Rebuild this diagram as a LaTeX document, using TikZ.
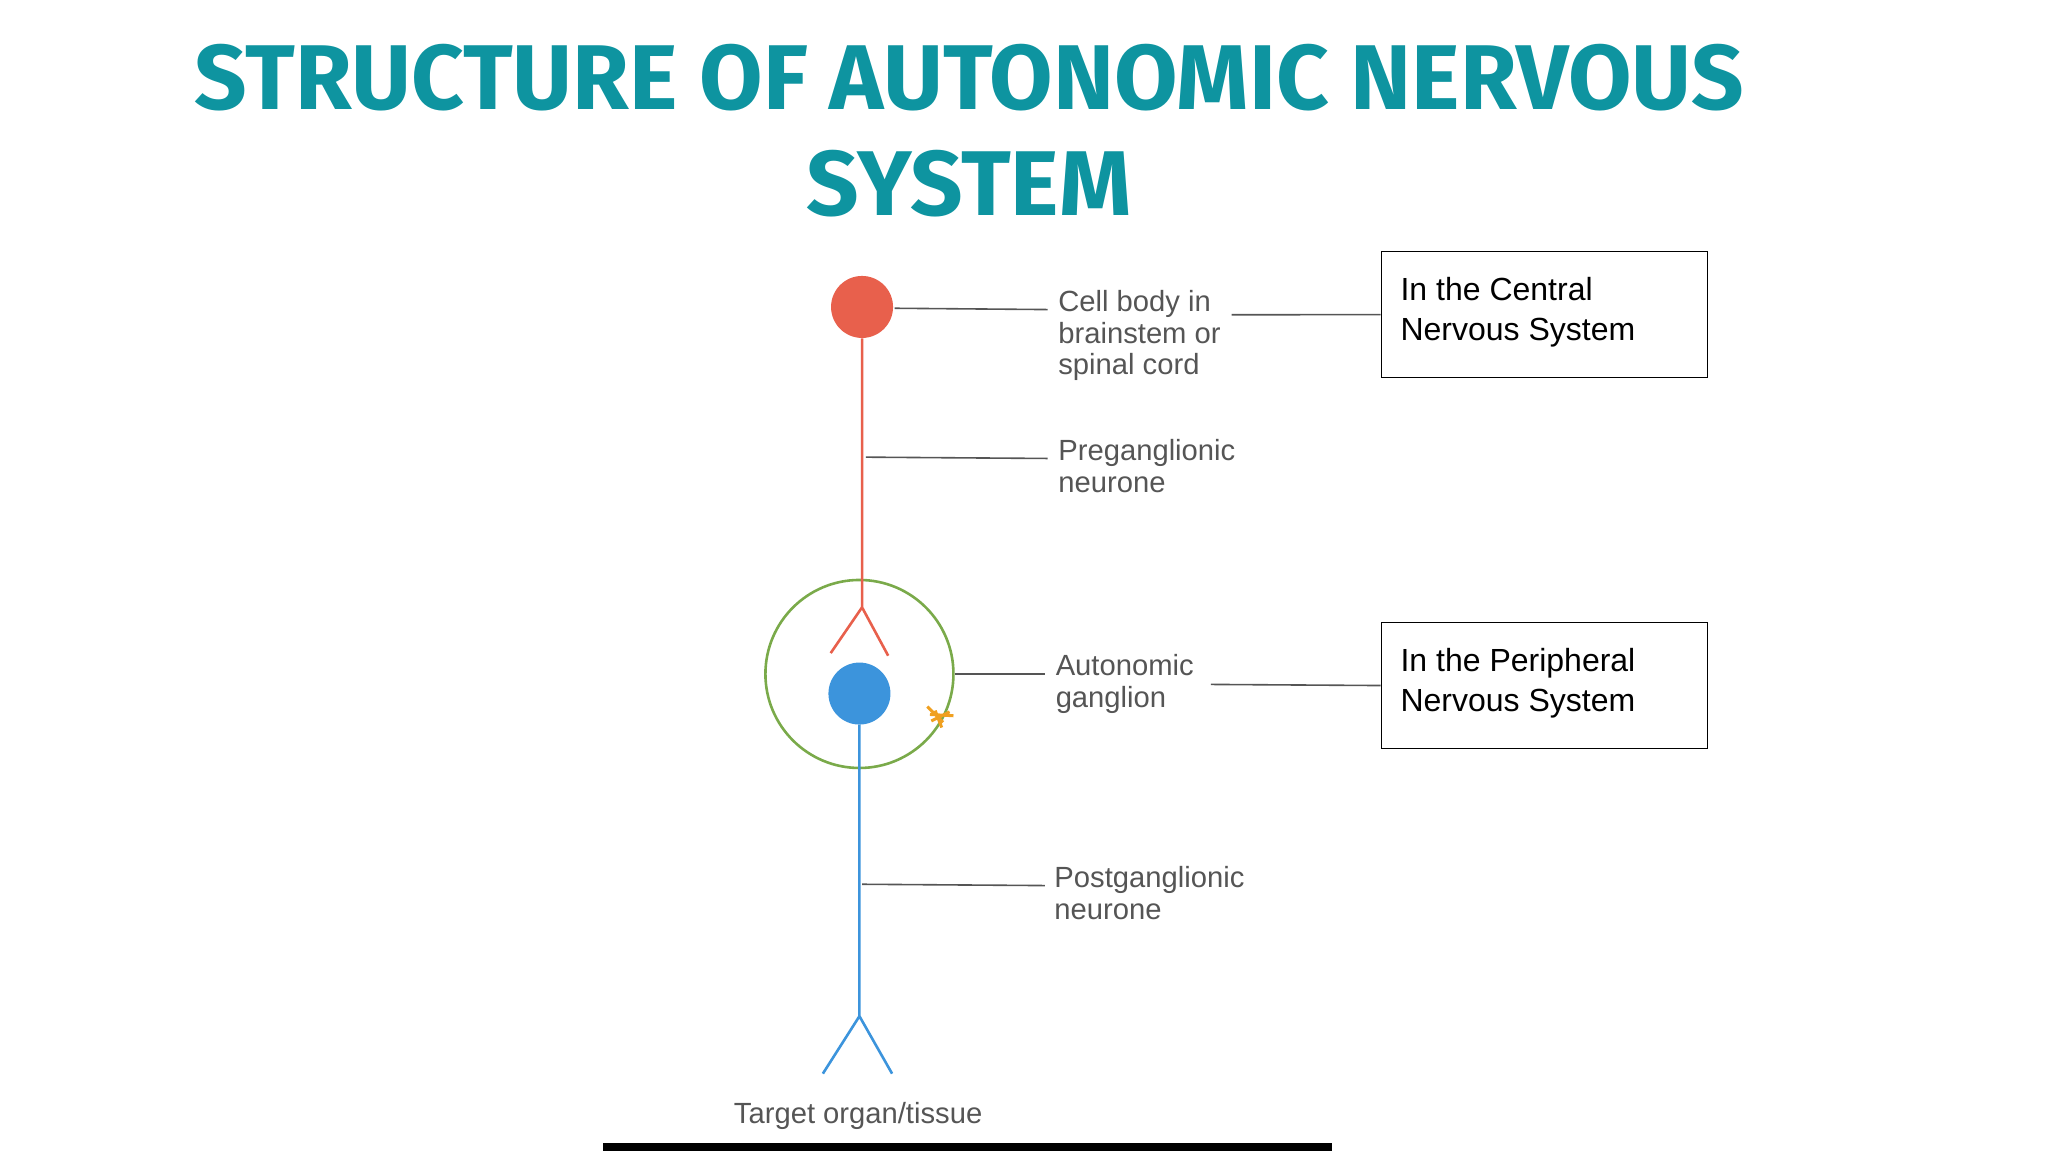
\documentclass[tikz,border=0pt]{standalone}
\usepackage{fontspec}
\setmainfont{Liberation Sans}
\newfontfamily\titlefont{Fira Sans}[UprightFeatures={FakeBold=1.5}]
\definecolor{teal1}{HTML}{0E94A0}
\definecolor{nred}{HTML}{E8604C}
\definecolor{nblue}{HTML}{3C94DC}
\definecolor{ngreen}{HTML}{7AAA4A}
\definecolor{lgray}{HTML}{555555}
\definecolor{orng}{HTML}{F0A020}
\begin{document}
\begin{tikzpicture}[x=0.653pt,y=-0.653pt,
  lbl/.style={anchor=north west,align=left,text=lgray,font=\fontsize{14.6}{15.8}\selectfont,inner sep=0pt},
  box/.style={draw,line width=0.8pt,minimum width=163pt,minimum height=63pt,anchor=north west,inner sep=0pt},
  btxt/.style={anchor=north west,align=left,font=\fontsize{16}{20.2}\selectfont,inner sep=0pt},
  lead/.style={draw=lgray,line width=0.8pt}]
\useasboundingbox (0,0) rectangle (1568,883.6);
\node[text=teal1,font=\titlefont\bfseries\fontsize{46}{53}\selectfont,align=center] (title) at (742,100) {STRUCTURE OF AUTONOMIC NERVOUS\\SYSTEM};
% neurons
\node[circle,fill=nred,minimum size=31pt,inner sep=0pt] (cb) at (660,235) {};
\node[circle,draw=ngreen,line width=1.3pt,minimum size=94pt,inner sep=0pt] (gg) at (658,516) {};
\node[circle,fill=nblue,minimum size=31pt,inner sep=0pt] (bc) at (658,531) {};
\coordinate (rj) at (660,465);
\coordinate (bj) at (658,778);
\draw[nred,line width=1.3pt] (cb.south) -- (rj) (636,500) -- (rj) -- (680,502);
\draw[nblue,line width=1.3pt] (bc.south) -- (bj) (630,822) -- (bj) -- (683,822);
\draw[orng,line width=1.5pt] (710,541) -- (722,553) (713,552) -- (727,545) (716,544) -- (721,557) (712,547) -- (730,548);
% labels
\node[lbl] (l1) at (810,222) {Cell body in\\brainstem or\\spinal cord};
\node[lbl] (l2) at (810,336) {Preganglionic\\neurone};
\node[lbl] (l3) at (808,501) {Autonomic\\ganglion};
\node[lbl] (l4) at (807,663) {Postganglionic\\neurone};
\node[text=lgray,font=\fontsize{14.6}{16}\selectfont,inner sep=0pt] (tgt) at (657,854) {Target organ/tissue};
\coordinate (c1) at (802,237);
\coordinate (c2) at (802,351);
\coordinate (c3) at (800,516);
\coordinate (c4) at (800,678);
\coordinate (p2) at (663,350);
\coordinate (p4) at (660,677);
\draw[lead] (685,236) -- (c1);
\draw[lead] (p2) -- (c2);
\draw[lead] (gg.east) -- (c3);
\draw[lead] (p4) -- (c4);
\coordinate (bl) at (462,878);
\coordinate (br) at (1020,878);
\draw[line width=4pt] (bl) -- (br);
% boxes
\node[box] (b1) at (1057,192) {};
\node[btxt] (t1) at (1072,212) {In the Central\\Nervous System};
\node[box] (b2) at (1057,476) {};
\node[btxt] (t2) at (1072,496) {In the Peripheral\\Nervous System};
\coordinate (s1) at (943,241);
\coordinate (s2) at (927,524);
\draw[lead] (s1) -- (b1.west);
\draw[lead] (s2) -- (b2.west);
\end{tikzpicture}
\end{document}
